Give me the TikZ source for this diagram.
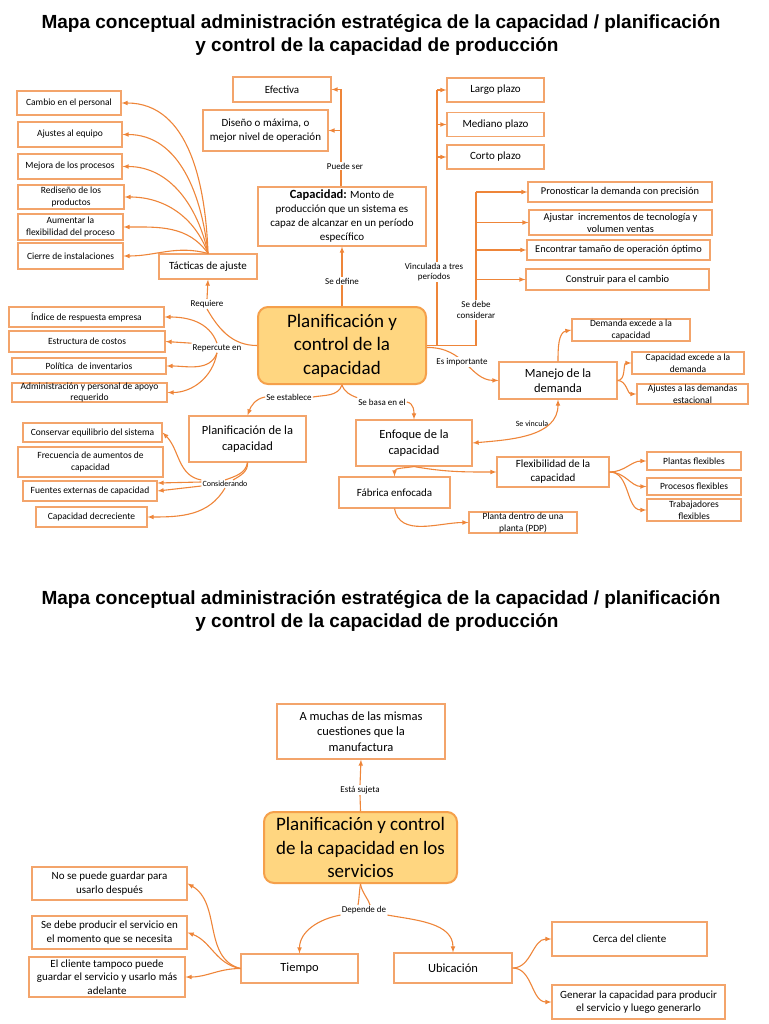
\documentclass[tikz,border=0pt]{standalone}
\usepackage{fontspec}
\setmainfont{Carlito}
\newfontfamily\titlefont{Liberation Sans}

\definecolor{boxorange}{HTML}{F3A46B}
\definecolor{lineorange}{HTML}{EE8539}
\definecolor{mainfill}{HTML}{FFD680}
\definecolor{mainborder}{HTML}{F5A04B}

\tikzset{
    maptitle/.style={font=\titlefont\bfseries\fontsize{19}{23}\selectfont, inner sep=0pt},
    box/.style={draw=boxorange, line width=1.1pt, fill=white, align=center, inner sep=1pt},
    mainbox/.style={draw=mainborder, line width=2pt, fill=mainfill, rounded corners=10pt,
        align=center, inner sep=2pt, font=\fontsize{19}{23.5}\selectfont},
    fsmall/.style={font=\fontsize{9.5}{12}\selectfont},
    fnormal/.style={font=\fontsize{10.4}{12}\selectfont},
    fmedium/.style={font=\fontsize{11}{14}\selectfont},
    fbottom/.style={font=\fontsize{11}{13.3}\selectfont},
    flarge/.style={font=\fontsize{12.5}{15.5}\selectfont},
    lbl/.style={font=\fontsize{9}{10.5}\selectfont, align=center, inner sep=1pt},
    lblsmall/.style={font=\fontsize{8}{9.5}\selectfont, align=center, inner sep=1pt},
    link/.style={draw=lineorange, line width=1.1pt},
    thicklink/.style={draw=lineorange, line width=1.8pt},
    conn/.style={link, -latex},
}

\begin{document}
\begin{tikzpicture}[x=1pt,y=-1pt]
    \useasboundingbox (0,0) rectangle (768,1024);

    % first map
    \node[maptitle, anchor=base] (tituloa1) at (381,29) {Mapa conceptual administración estratégica de la capacidad / planificación};
    \node[maptitle, anchor=base] (tituloa2) at (377,52) {y control de la capacidad de producción};

    \node[mainbox, minimum width=168, minimum height=77] (central) at (342,345.5) {Planificación y\\control de la\\capacidad};

    % capacidad
    \node[box, fmedium, minimum width=98, minimum height=25] (efectiva) at (282,89.5) {Efectiva};
    \node[box, fmedium, minimum width=125, minimum height=41] (diseno) at (265.5,130.5) {Diseño o máxima, o\\mejor nivel de operación};
    \node[box, fmedium, minimum width=168, minimum height=59] (capacidad) at (342,216.5) {{\fontsize{12.5}{14}\selectfont\bfseries Capacidad:} Monto de\\producción que un sistema es\\capaz de alcanzar en un período\\específico};
    \node[lbl] (lpuede) at (345,166) {Puede ser};
    \node[lbl] (ldefine) at (342,281) {Se define};
    \coordinate (pefec) at (341,89.5);
    \coordinate (pdis) at (341,130.5);
    \draw[link] (capacidad.north -| pefec) -- (lpuede.south -| pefec);
    \draw[link] (lpuede.north -| pefec) -- (pefec);
    \draw[conn] (pefec) -- (efectiva.east);
    \draw[conn] (pdis) -- (diseno.east);
    \draw[link] (central.north) -- (ldefine.south);
    \draw[conn] (ldefine.north) -- (capacidad.south);

    % periodos
    \node[box, fmedium, minimum width=97, minimum height=24] (largo) at (495.5,90) {Largo plazo};
    \node[box, fmedium, minimum width=97, minimum height=24] (mediano) at (495.5,124.5) {Mediano plazo};
    \node[box, fmedium, minimum width=97, minimum height=24] (corto) at (495.5,157) {Corto plazo};
    \node[lbl] (lvinc) at (434,272) {Vinculada a tres\\períodos};
    \coordinate (vbase) at (437,345.5);
    \coordinate (vlargo) at (437,90);
    \coordinate (vmed) at (437,124.5);
    \coordinate (vcorto) at (437,157);
    \draw[link] (central.east) -- (vbase) -- (vbase |- lvinc.south);
    \draw[link] (vbase |- lvinc.north) -- (vlargo);
    \draw[conn] (vlargo) -- (largo.west);
    \draw[conn] (vmed) -- (mediano.west);
    \draw[conn] (vcorto) -- (corto.west);

    % considerar
    \node[box, fnormal, minimum width=184, minimum height=20] (pronosticar) at (620,192) {Pronosticar la demanda con precisión};
    \node[box, fnormal, inner sep=0pt, minimum width=183, minimum height=25] (ajustar) at (620.5,222.5) {Ajustar\ \ incrementos de tecnología y\\volumen ventas};
    \node[box, fnormal, minimum width=183, minimum height=20] (encontrar) at (618.5,250) {Encontrar tamaño de operación óptimo};
    \node[box, fnormal, minimum width=183, minimum height=21] (construir) at (617.5,279.5) {Construir para el cambio};
    \node[lbl] (ldebe) at (476,310) {Se debe\\considerar};
    \coordinate (dbase) at (476,345.5);
    \coordinate (dpron) at (476,192);
    \coordinate (dajus) at (476,222.5);
    \coordinate (dencon) at (476,250);
    \coordinate (dcons) at (476,279.5);
    \draw[thicklink] (vbase) -- (dbase) -- (ldebe.south -| dbase);
    \draw[thicklink] (ldebe.north -| dbase) -- (dpron);
    \draw[conn] (dpron) -- (pronosticar.west);
    \draw[conn] (dajus) -- (ajustar.west);
    \draw[conn] (dencon) -- (encontrar.west);
    \draw[conn] (dcons) -- (construir.west);

    % demanda
    \node[box, flarge, minimum width=118, minimum height=37] (manejo) at (558,380.5) {Manejo de la\\demanda};
    \node[box, fsmall, inner sep=0pt, minimum width=118, minimum height=22] (demexc) at (631,330) {Demanda excede a la\\capacidad};
    \node[box, fsmall, inner sep=0pt, minimum width=112, minimum height=22] (capexc) at (688,363) {Capacidad excede a la\\demanda};
    \node[box, fsmall, inner sep=0pt, minimum width=111, minimum height=20] (ajudem) at (692.5,394) {Ajustes a las demandas\\estacional};
    \draw[conn] ([yshift=-2pt]central.east) .. controls (465,347) and (470,380) .. (manejo.west);
    \node[lbl, fill=white] (limport) at (462,362) {Es importante};
    \draw[conn] (manejo.north) to[out=90,in=190] (demexc.west);
    \draw[conn] (manejo.east) to[out=0,in=180] (capexc.west);
    \draw[conn] (manejo.east) to[out=0,in=180] (ajudem.west);

    % enfoque
    \node[box, flarge, minimum width=116, minimum height=46] (enfoque) at (414,443) {Enfoque de la\\capacidad};
    \node[box, fmedium, minimum width=111, minimum height=31] (fabrica) at (394.5,492.5) {Fábrica enfocada};
    \node[box, fsmall, inner sep=0pt, minimum width=108, minimum height=21] (planta) at (523,522.5) {Planta dentro de una\\planta (PDP)};
    \node[box, fmedium, minimum width=112, minimum height=30] (flex) at (553,472) {Flexibilidad de la\\capacidad};
    \node[box, fsmall, minimum width=94, minimum height=18] (plantas) at (694,461) {Plantas flexibles};
    \node[box, fsmall, minimum width=94, minimum height=17] (procesos) at (694,486.5) {Procesos flexibles};
    \node[box, fsmall, inner sep=0pt, minimum width=94, minimum height=22] (trabajadores) at (694,510) {Trabajadores\\flexibles};
    \node[lblsmall] (lvincula) at (532,424) {Se vincula};
    \draw[link, latex-latex] (manejo.south) to[out=-90,in=5] (enfoque.east);
    \draw[conn] (enfoque.south) to[out=190,in=90] (fabrica.north);
    \draw[conn] (enfoque.south) to[out=-10,in=180] (flex.west);
    \draw[conn] (fabrica.south) to[out=-80,in=180] (planta.west);
    \draw[conn] (flex.east) to[out=0,in=180] (plantas.west);
    \draw[conn] (flex.east) to[out=0,in=180] (procesos.west);
    \draw[conn] (flex.east) to[out=0,in=180] (trabajadores.west);

    % se establece / se basa
    \node[box, flarge, minimum width=117, minimum height=46] (planif) at (247.5,439) {Planificación de la\\capacidad};
    \node[lbl] (lestab) at (289,397) {Se establece};
    \node[lbl] (lbasa) at (382,402) {Se basa en el};
    \draw[link] (central.south) to[out=-110,in=10] (lestab.east);
    \draw[conn] (lestab.west) to[out=190,in=70] (planif.north);
    \draw[link] (central.south) to[out=-70,in=160] (lbasa.north west);
    \draw[conn] (lbasa.east) to[out=-10,in=90] (enfoque.north);

    % tacticas
    \node[box, fmedium, minimum width=98, minimum height=25] (tacticas) at (208,266.5) {Tácticas de ajuste};
    \node[box, fsmall, minimum width=104, minimum height=24] (cambio) at (69,103) {Cambio en el personal};
    \node[box, fsmall, minimum width=104, minimum height=25] (equipo) at (70,134.5) {Ajustes al equipo};
    \node[box, fsmall, minimum width=104, minimum height=25] (mejora) at (70,166.5) {Mejora de los procesos};
    \node[box, fsmall, inner sep=0pt, minimum width=106, minimum height=24] (rediseno) at (71,197) {Rediseño de los\\productos};
    \node[box, fsmall, inner sep=0pt, minimum width=105, minimum height=26] (aumentar) at (70.5,227) {Aumentar la\\flexibilidad del proceso};
    \node[box, fsmall, minimum width=105, minimum height=26] (cierre) at (70.5,256) {Cierre de instalaciones};
    \draw[conn] (tacticas.north) to[out=92,in=0] (cambio.east);
    \draw[conn] (tacticas.north) to[out=96,in=0] (equipo.east);
    \draw[conn] (tacticas.north) to[out=102,in=0] (mejora.east);
    \draw[conn] (tacticas.north) to[out=110,in=0] (rediseno.east);
    \draw[conn] (tacticas.north) to[out=125,in=0] (aumentar.east);
    \draw[conn] (tacticas.north) to[out=165,in=0] (cierre.east);
    \node[lbl] (lrequiere) at (207,304) {Requiere};
    \draw[link] (central.west) to[out=180,in=-60] (lrequiere.south);
    \draw[conn] (lrequiere.north) -- (tacticas.south);

    % repercute
    \node[lbl] (lreper) at (217,348) {Repercute en};
    \node[box, fsmall, minimum width=155, minimum height=20] (indice) at (86.5,317) {Índice de respuesta empresa};
    \node[box, fsmall, minimum width=156, minimum height=21] (estructura) at (87,341.5) {Estructura de costos};
    \node[box, fsmall, minimum width=154, minimum height=16] (politica) at (89,366) {Política\ \ de inventarios};
    \node[box, fsmall, inner sep=0pt, font=\fontsize{9.5}{10.5}\selectfont, minimum width=155, minimum height=19] (admin) at (89.5,392.5) {Administración y personal de apoyo\\requerido};
    \draw[conn] (lreper.north) to[out=110,in=0] (indice.east);
    \draw[conn] (lreper.north west) -- (estructura.east);
    \draw[conn] (lreper.south) to[out=-110,in=0] (politica.east);
    \draw[conn] (lreper.south) to[out=-100,in=0] (admin.east);

    % considerando
    \node[lblsmall] (lconsid) at (225,484) {Considerando};
    \node[box, fsmall, minimum width=139, minimum height=19] (conservar) at (92.5,432.5) {Conservar equilibrio del sistema};
    \node[box, fsmall, minimum width=145, minimum height=30] (frecuencia) at (90.5,462) {Frecuencia de aumentos de\\capacidad};
    \node[box, fsmall, minimum width=134, minimum height=20] (fuentes) at (90,491) {Fuentes externas de capacidad};
    \node[box, fsmall, minimum width=111, minimum height=20] (decrec) at (91.5,517) {Capacidad decreciente};
    \draw[link] (planif.south) to[out=-100,in=20] (lconsid.north);
    \draw[link] (planif.south) to[out=-85,in=30] ([xshift=8pt]lconsid.north);
    \draw[conn] (lconsid.north west) to[out=170,in=-45] (conservar.east);
    \draw[conn] ([yshift=2pt]lconsid.west) -- ([yshift=8pt]fuentes.east);
    \draw[conn] ([yshift=-2pt]lconsid.west) -- (fuentes.east);
    \draw[conn] (lconsid.south) to[out=-120,in=0] (decrec.east);

    % second map
    \node[maptitle, anchor=base] (titulob1) at (381,604) {Mapa conceptual administración estratégica de la capacidad / planificación};
    \node[maptitle, anchor=base] (titulob2) at (377,627) {y control de la capacidad de producción};

    \node[mainbox, minimum width=193, minimum height=71] (servicios) at (360.5,847.5) {Planificación y control\\de la capacidad en los\\servicios};
    \node[box, flarge, minimum width=168, minimum height=55] (muchas) at (361,731.5) {A muchas de las mismas\\cuestiones que la\\manufactura};
    \node[lbl] (lsujeta) at (360,790) {Está sujeta};
    \draw[link] (servicios.north) -- (lsujeta.south);
    \draw[conn] (lsujeta.north) -- (muchas.south);

    \node[lbl] (ldepende) at (364,910) {Depende de};
    \node[box, flarge, minimum width=117, minimum height=29] (tiempo) at (299.5,968.5) {Tiempo};
    \node[box, flarge, minimum width=118, minimum height=30] (ubicacion) at (453,968) {Ubicación};
    \draw[link] (servicios.south) to[out=-100,in=80] ([xshift=-6pt]ldepende.north);
    \draw[link] (servicios.south) to[out=-80,in=110] ([xshift=6pt]ldepende.north);
    \draw[conn] (ldepende.south west) to[out=190,in=90] (tiempo.north);
    \draw[conn] (ldepende.south east) to[out=-10,in=90] (ubicacion.north);

    \node[box, fbottom, minimum width=155, minimum height=33] (noguardar) at (109.5,883.5) {No se puede guardar para\\usarlo después};
    \node[box, fbottom, minimum width=155, minimum height=33] (producir) at (109.5,932.5) {Se debe producir el servicio en\\el momento que se necesita};
    \node[box, fbottom, minimum width=156, minimum height=40] (cliente) at (107,977) {El cliente tampoco puede\\guardar el servicio y usarlo más\\adelante};
    \draw[conn] (tiempo.west) to[out=165,in=-30] (noguardar.east);
    \draw[conn] (tiempo.west) to[out=170,in=-20] (producir.east);
    \draw[conn] (tiempo.west) to[out=180,in=0] (cliente.east);

    \node[box, fbottom, minimum width=155, minimum height=34] (cerca) at (629.5,939) {Cerca del cliente};
    \node[box, fbottom, minimum width=173, minimum height=34] (generar) at (638.5,1002) {Generar la capacidad para producir\\el servicio y luego generarlo};
    \draw[conn] (ubicacion.east) to[out=0,in=180] (cerca.west);
    \draw[conn] (ubicacion.east) to[out=0,in=180] (generar.west);
\end{tikzpicture}
\end{document}
